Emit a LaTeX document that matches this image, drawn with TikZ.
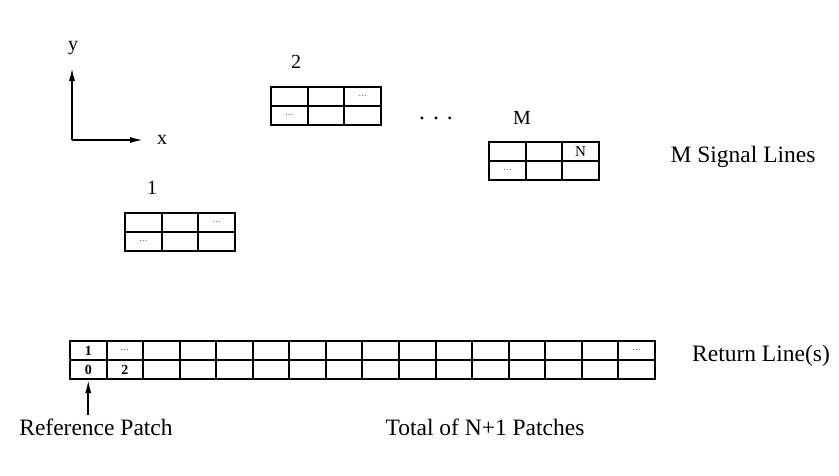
\documentclass[tikz,border=0pt]{standalone}
\usepackage{fontspec}
\setmainfont{Liberation Serif}
\usetikzlibrary{arrows.meta}

\begin{document}
\begin{tikzpicture}[>={Latex[length=14pt,width=6pt]},x=1pt,y=-1pt,line width=2pt]

\useasboundingbox (0,0) rectangle (839,476);

\def\sk{36.6}
\def\hk{19}
\def\feld#1#2#3{
\draw (#1,#2) rectangle ({#1+#3*\sk},{#2+2*\hk});
\draw (#1,{#2+\hk})--({#1+#3*\sk},{#2+\hk});
\foreach \i in {1,...,#3}{
	\draw ({#1+\i*\sk},#2)--({#1+\i*\sk},{#2+2*\hk});
}
}
\tikzset{
	gross/.style={inner sep=0pt,font=\fontsize{20}{22}\selectfont},
	text24/.style={inner sep=0pt,font=\fontsize{23.5}{26}\selectfont},
	klein/.style={inner sep=0pt,font=\fontsize{14}{15}\selectfont\bfseries},
	punkte/.style={inner sep=0pt,font=\fontsize{8}{9}\selectfont}
}

% axes
\coordinate (o) at (72,140);
\coordinate (ytip) at (72,67);
\coordinate (xtip) at (144,140);
\draw[->] (o)--(ytip);
\draw[->] (o)--(xtip);
\node[gross] (ylab) at (73,48) {y};
\node[gross] (xlab) at (162,140) {x};

% signal lines
\feld{125}{213}{3}
\feld{271}{87}{3}
\feld{489}{142}{3}

\node[gross] (l1) at (152,188) {1};
\node[gross] (l2) at (296,62) {2};
\node[gross] (lm) at (522,118) {M};
\node[text24] (dots) at (436,118) {.\hspace{8pt}.\hspace{8pt}.};

\node[punkte] (p1a) at ({125+2.5*\sk},{213+0.5*\hk}) {\ldots};
\node[punkte] (p1b) at ({125+0.5*\sk},{213+1.5*\hk}) {\ldots};
\node[punkte] (p2a) at ({271+2.5*\sk},{87+0.5*\hk}) {\ldots};
\node[punkte] (p2b) at ({271+0.5*\sk},{87+1.5*\hk}) {\ldots};
\node[inner sep=0pt,font=\fontsize{15}{16}\selectfont] (pmn) at ({489+2.5*\sk},{142+0.5*\hk}) {N};
\node[punkte] (pmb) at ({489+0.5*\sk},{142+1.5*\hk}) {\ldots};

\node[text24] (signal) at (743,157) {M Signal Lines};

% return line
\begin{scope}
\def\sk{36.56}
\feld{70}{341}{16}
\node[klein] (r1) at ({70+0.5*\sk},{341+0.5*\hk}) {1};
\node[klein] (r0) at ({70+0.5*\sk},{341+1.5*\hk}) {0};
\node[punkte] (rdots) at ({70+1.5*\sk},{341+0.5*\hk}) {\ldots};
\node[klein] (r2) at ({70+1.5*\sk},{341+1.5*\hk}) {2};
\node[punkte] (rlast) at ({70+15.5*\sk},{341+0.5*\hk}) {\ldots};
\coordinate (refcell) at ({70+0.5*\sk},{341+2*\hk});
\end{scope}

\node[text24] (ret) at (761,356) {Return Line(s)};
\node[text24] (refpatch) at (96,427) {Reference Patch};
\node[text24] (total) at (485,427) {Total of N+1 Patches};

\draw[->] (refpatch.north -| refcell) ++(0,-3) coordinate (reftail) -- (refcell);

\end{tikzpicture}
\end{document}
